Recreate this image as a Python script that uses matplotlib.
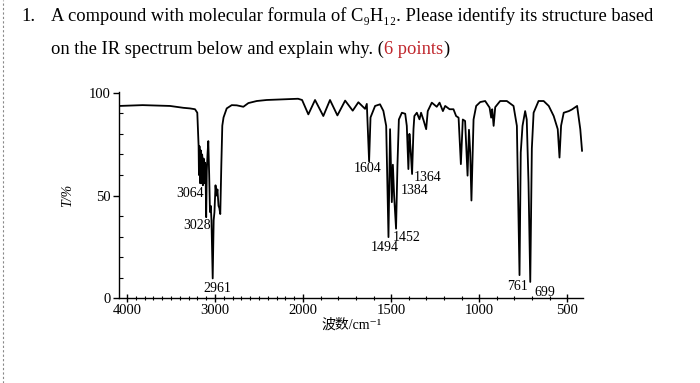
import numpy as np
import matplotlib
matplotlib.use("Agg")
import matplotlib.pyplot as plt
from matplotlib.lines import Line2D

# ---------- data ----------
wavenumber = [4088, 3822, 3511, 3360, 3284, 3227, 3201, 3186, 3182, 3176,
              3172, 3168, 3165, 3162, 3159, 3155, 3150, 3146, 3142, 3138,
              3133, 3129, 3125, 3120, 3116, 3112, 3108, 3100, 3093, 3085,
              3076, 3066, 3057, 3048, 3040, 3026, 3015, 3006, 2994, 2983,
              2972, 2960, 2951, 2940, 2928, 2917, 2903, 2867, 2810, 2753,
              2678, 2621, 2526, 2413, 2227, 2057, 2011, 1970, 1932, 1885,
              1847, 1805, 1761, 1718, 1686, 1648, 1638, 1625, 1617, 1591,
              1563, 1544, 1528, 1515, 1506, 1496, 1490, 1483, 1472, 1464,
              1456, 1439, 1420, 1411, 1402, 1396, 1389, 1381, 1373, 1368,
              1354, 1339, 1330, 1316, 1301, 1292, 1269, 1241, 1225, 1206,
              1193, 1168, 1146, 1131, 1117, 1104, 1093, 1080, 1066, 1058,
              1051, 1044, 1032, 1017, 994, 966, 941, 932, 926, 918,
              909, 881, 843, 805, 786, 783, 771, 764, 754, 739,
              730, 720, 710, 701, 691, 663, 634, 605, 577, 554,
              544, 535, 520, 491, 473, 444, 426, 416]
transmittance = [93.6, 94.0, 93.6, 92.7, 92.4, 92.0, 90.3, 74.0, 60.0, 74.0,
                 66.0, 56.0, 62.0, 72.0, 70.0, 58.0, 56.0, 70.0, 68.0, 55.0,
                 58.0, 68.0, 66.0, 56.0, 57.0, 66.0, 64.0, 39.5, 62.0, 70.0,
                 76.5, 60.0, 42.0, 45.0, 38.0, 9.7, 38.0, 42.0, 55.0, 50.0,
                 53.0, 45.0, 44.0, 41.0, 65.0, 84.0, 88.0, 92.4, 94.0, 93.9,
                 93.2, 95.0, 96.0, 96.5, 96.8, 97.1, 96.5, 89.5, 96.5, 88.7,
                 96.5, 89.0, 96.2, 91.3, 95.4, 92.2, 94.6, 66.6, 88.0, 93.6,
                 94.4, 91.2, 83.9, 29.8, 82.3, 46.8, 65.0, 50.0, 33.9, 65.0,
                 87.0, 90.3, 89.8, 83.9, 62.9, 80.0, 72.0, 60.5, 82.3, 88.7,
                 90.3, 87.1, 90.3, 86.7, 82.3, 91.1, 95.2, 93.2, 95.2, 91.1,
                 93.6, 92.0, 92.0, 88.7, 87.9, 65.3, 87.0, 86.3, 59.7, 82.0,
                 71.0, 47.6, 87.0, 93.6, 95.5, 96.0, 92.8, 87.9, 92.0, 83.9,
                 93.0, 96.0, 96.0, 93.6, 83.9, 69.4, 11.3, 71.0, 83.9, 91.1,
                 87.0, 56.4, 8.0, 73.0, 90.3, 96.0, 96.0, 93.6, 88.7, 82.3,
                 68.5, 84.0, 90.3, 91.1, 91.9, 93.6, 82.3, 71.8]

# peak labels: text, position (wavenumber, T) of the label centre
peak_labels = ["3064", "3028", "2961", "1604", "1364", "1384", "1452", "1494", "761", "699"]
label_wn = [3284, 3205, 2977, 1631, 1290, 1369, 1409, 1534, 784, 625]
label_t = [51, 35.5, 5, 63, 58.7, 52.4, 29.7, 24.8, 6, 3]

major_ticks = [4000, 3000, 2000, 1500, 1000, 500]
y_ticks = [0, 50, 100]


# IR chart x axis: scale doubles below 2000 cm-1
def fwd(x):
    x = np.asarray(x, dtype=float)
    return np.where(x >= 2000, (x - 2000) / 2.0, x - 2000)


def inv(u):
    u = np.asarray(u, dtype=float)
    return np.where(u >= 0, 2000 + 2 * u, 2000 + u)


serif = ["Liberation Serif", "DejaVu Serif"]
plt.rcParams["font.family"] = serif

fig = plt.figure(figsize=(7.0, 3.83), dpi=100)
ax = fig.add_axes([0.170, 0.221, 0.663, 0.5394])

ax.plot(wavenumber, transmittance, color="black", linewidth=1.3)

ax.set_xscale("function", functions=(fwd, inv))
ax.set_xlim(4090, 410)
ax.set_ylim(0, 100.5)

ax.set_xticks(major_ticks)
ax.set_xticklabels([str(t) for t in major_ticks])
ax.set_xticks(list(range(4000, 400, -100)), minor=True)
ax.set_yticks(y_ticks)
ax.set_yticks(list(range(0, 101, 10)), minor=True)

for s in ["top", "right"]:
    ax.spines[s].set_visible(False)
for s in ["left", "bottom"]:
    ax.spines[s].set_linewidth(1.0)

ax.tick_params(axis="x", which="major", direction="inout", length=6, width=1, labelsize=10.5, pad=1)
ax.tick_params(axis="x", which="minor", direction="inout", length=3, width=0.8)
ax.tick_params(axis="y", which="major", direction="out", length=4, width=1, labelsize=10.5, pad=2)
ax.tick_params(axis="y", which="minor", direction="in", length=3, width=0.8)

for txt, x, y in zip(peak_labels, label_wn, label_t):
    ax.text(x, y, txt, ha="center", va="center", fontsize=10)

ax.set_xlabel("波数/cm⁻¹", fontsize=10,
              family=["Liberation Serif", "Noto Sans CJK SC", "DejaVu Sans"], labelpad=1)
ax.set_ylabel("T/%", fontsize=10, style="italic")
ax.yaxis.set_label_coords(-0.097, 0.5)

# question text above the chart
fs = 13.3
fig.text(0.031, 0.957, "1.", fontsize=fs, va="center")
fig.text(0.073, 0.957, "A compound with molecular formula of C₉H₁₂. Please identify its structure based",
         fontsize=fs, va="center")
t1 = fig.text(0.073, 0.872, "on the IR spectrum below and explain why. (", fontsize=fs, va="center")
t2 = ax.annotate("6 points", xy=(1, 0), xycoords=t1, ha="left", va="bottom",
                 fontsize=fs, color="#c0272d", annotation_clip=False)
ax.annotate(")", xy=(1, 0), xycoords=t2, ha="left", va="bottom",
            fontsize=fs, annotation_clip=False)

# dashed page edge on the left
fig.add_artist(Line2D([0.004, 0.004], [0, 1], transform=fig.transFigure,
                      color="#888888", linewidth=0.8, linestyle=(0, (2, 2))))

fig.savefig("out.png", dpi=100)
